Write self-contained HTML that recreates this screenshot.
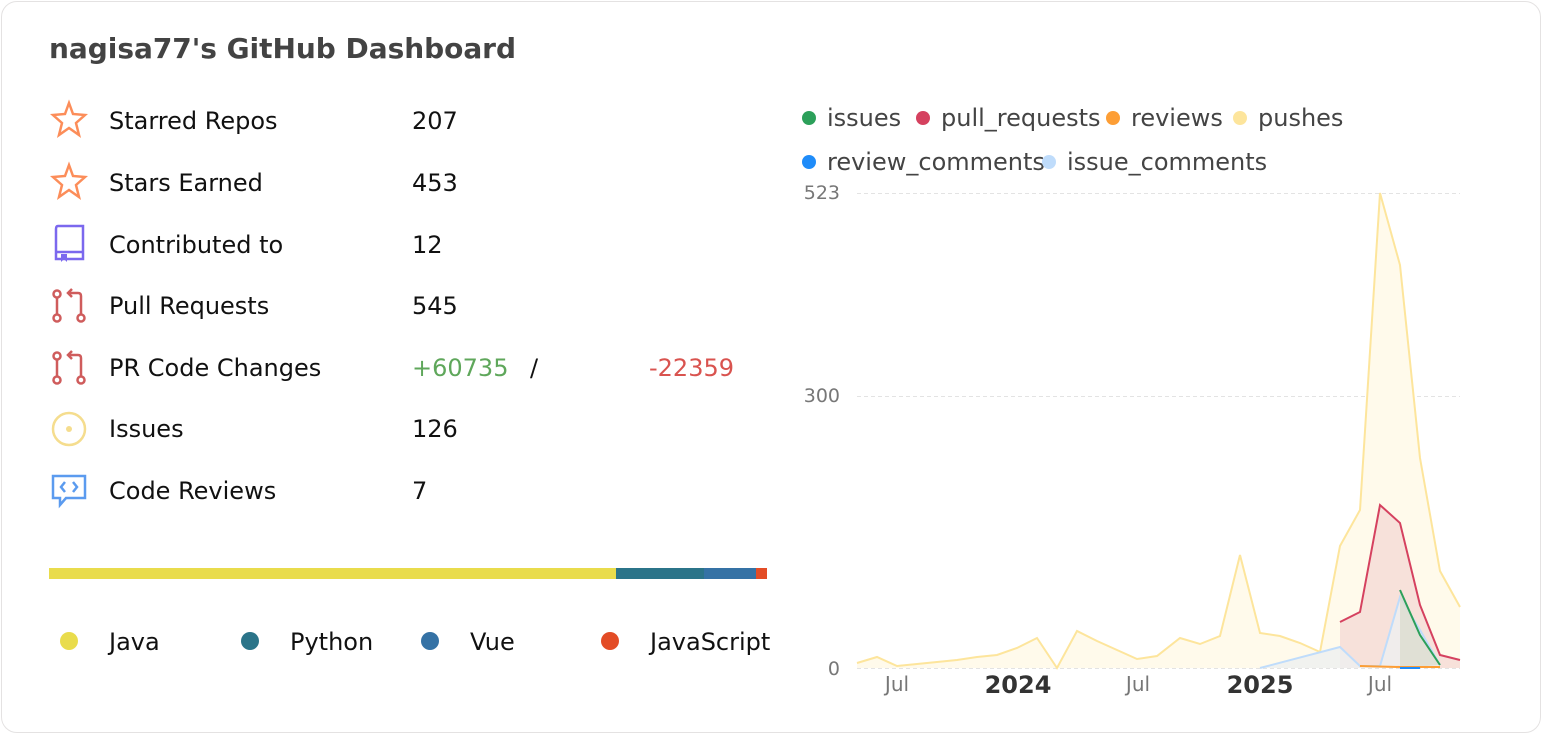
<!DOCTYPE html>
<html><head><style>
body{margin:0;background:#fff;font-family:"DejaVu Sans","Liberation Sans",sans-serif;}
.card{position:absolute;left:1px;top:1px;width:1538px;height:730px;border:1px solid #e4e2e2;border-radius:16px;background:#fff;}
</style></head><body>
<div class="card"></div>
<svg width="1542" height="734" style="position:absolute;left:0;top:0">
<text x="49" y="58" font-size="28" font-weight="bold" fill="#434343" textLength="467">nagisa77's GitHub Dashboard</text>
<g font-size="24" fill="#111">
<text x="109" y="129">Starred Repos</text><text x="412" y="129">207</text>
<text x="109" y="191">Stars Earned</text><text x="412" y="191">453</text>
<text x="109" y="253">Contributed to</text><text x="412" y="253">12</text>
<text x="109" y="314">Pull Requests</text><text x="412" y="314">545</text>
<text x="109" y="376">PR Code Changes</text><text x="412" y="376" fill="#5fa75b">+60735</text><text x="530" y="376">/</text><text x="649" y="376" fill="#d9534f">-22359</text>
<text x="109" y="437">Issues</text><text x="412" y="437">126</text>
<text x="109" y="499">Code Reviews</text><text x="412" y="499">7</text>
</g>
<g fill="none" stroke-width="2.5">
<polygon points="69,103 73,114 85,115 76,123 79,135 69,128 59,135 62,123 53,115 65,114" stroke="#fc8d59"/>
<polygon points="69,165 73,176 85,177 76,185 79,197 69,190 59,197 62,185 53,177 65,176" stroke="#fc8d59"/>
<path d="M58,226h25v33h-27v-30q0,-3 2,-3z M56,252h27" stroke="#7b68ee"/><path d="M61,254v8l3,-3l3,3v-8z" fill="#7b68ee" stroke="none"/>
<g stroke="#cf5c5c"><circle cx="57" cy="294" r="3.5"/><circle cx="57" cy="318" r="3.5"/><circle cx="81" cy="318" r="3.5"/><path d="M57,298v16 M81,314v-18q0,-3 -3,-3h-9 M72,289l-4,4 4,4"/></g>
<g stroke="#cf5c5c"><circle cx="57" cy="356" r="3.5"/><circle cx="57" cy="380" r="3.5"/><circle cx="81" cy="380" r="3.5"/><path d="M57,360v16 M81,376v-18q0,-3 -3,-3h-9 M72,351l-4,4 4,4"/></g>
<circle cx="69" cy="429" r="16" stroke="#f5dd8e"/><circle cx="69" cy="429" r="3" fill="#f5dd8e" stroke="none"/>
<path d="M53,476h32v22h-19l-6,7v-7h-7z" stroke="#5b9bef"/><path d="M65,482l-4,5 4,5 M73,482l4,5-4,5" stroke="#5b9bef"/>
</g>
<rect x="49" y="568" width="567" height="11" fill="#e9dc4c"/>
<rect x="616" y="568" width="88" height="11" fill="#2b7489"/>
<rect x="704" y="568" width="52" height="11" fill="#3572a5"/>
<rect x="756" y="568" width="11" height="11" fill="#e34c26"/>
<g font-size="24" fill="#111">
<circle cx="69" cy="641" r="9" fill="#e9dc4c"/><text x="109" y="650">Java</text>
<circle cx="250" cy="641" r="9" fill="#2b7489"/><text x="290" y="650">Python</text>
<circle cx="430" cy="641" r="9" fill="#3572a5"/><text x="470" y="650">Vue</text>
<circle cx="610" cy="641" r="9" fill="#e34c26"/><text x="650" y="650">JavaScript</text>
</g>
<g font-size="24" fill="#444">
<circle cx="809" cy="118" r="7" fill="#2ca05a"/><text x="827" y="126">issues</text>
<circle cx="923" cy="118" r="7" fill="#d5415f"/><text x="941" y="126">pull_requests</text>
<circle cx="1113" cy="118" r="7" fill="#fd9e35"/><text x="1131" y="126">reviews</text>
<circle cx="1240" cy="118" r="7" fill="#fde59c"/><text x="1258" y="126">pushes</text>
<circle cx="809" cy="162" r="7" fill="#1f8cf9"/><text x="827" y="170">review_comments</text>
<circle cx="1049" cy="162" r="7" fill="#bfdcfb"/><text x="1067" y="170">issue_comments</text>
</g>
<g stroke="#e3e3e3" stroke-dasharray="4,3"><path d="M857,193.5H1460 M857,396.5H1460 M857,668.5H1460"/></g>
<g font-size="19" fill="#777" text-anchor="end"><text x="840" y="199">523</text><text x="840" y="402">300</text><text x="840" y="675">0</text></g>
<g font-size="20" fill="#777" text-anchor="middle"><text x="897" y="691">Jul</text><text x="1138" y="691">Jul</text><text x="1380" y="691">Jul</text></g>
<g font-size="24" font-weight="bold" fill="#333" text-anchor="middle"><text x="1018" y="693">2024</text><text x="1260" y="693">2025</text></g>
<polygon points="857,668 857,663 877,657 897,666 917,664 937,662 957,660 977,657 997,655 1017,648 1037,638 1057,668 1077,631 1097,641 1117,650 1137,659 1157,656 1180,638 1200,644 1220,636 1240,555 1260,633 1280,636 1300,643 1320,652 1340,546 1360,510 1380,193 1400,265 1420,458 1440,571 1460,607 1460,668" fill="#fffaeb" stroke="none"/>
<polyline points="857,663 877,657 897,666 917,664 937,662 957,660 977,657 997,655 1017,648 1037,638 1057,668 1077,631 1097,641 1117,650 1137,659 1157,656 1180,638 1200,644 1220,636 1240,555 1260,633 1280,636 1300,643 1320,652 1340,546 1360,510 1380,193 1400,265 1420,458 1440,571 1460,607" fill="none" stroke="#fde59c" stroke-width="2"/>
<polygon points="1340,668 1340,622 1360,612 1380,505 1400,523 1420,605 1440,655 1460,660 1460,668" fill="#f7e1da"/>
<polyline points="1340,622 1360,612 1380,505 1400,523 1420,605 1440,655 1460,660" fill="none" stroke="#d5415f" stroke-width="2"/>
<polygon points="1260,668 1340,647 1360,666 1380,666 1400,597 1420,630 1440,665 1440,668" fill="#eef0f0" opacity="0.8"/>
<polyline points="1260,668 1340,647 1360,666 1380,666 1400,597 1420,630 1440,665" fill="none" stroke="#bfdcfb" stroke-width="2"/>
<polygon points="1400,590 1420,635 1440,665 1400,668" fill="#dcdcd0" opacity="0.8"/>
<polyline points="1400,590 1420,635 1440,665" fill="none" stroke="#2ca05a" stroke-width="2"/>
<polyline points="1360,666 1400,667 1440,667" fill="none" stroke="#fd9e35" stroke-width="2"/>
<polyline points="1400,668 1420,668" fill="none" stroke="#1f8cf9" stroke-width="2"/>
</svg>
</body></html>
